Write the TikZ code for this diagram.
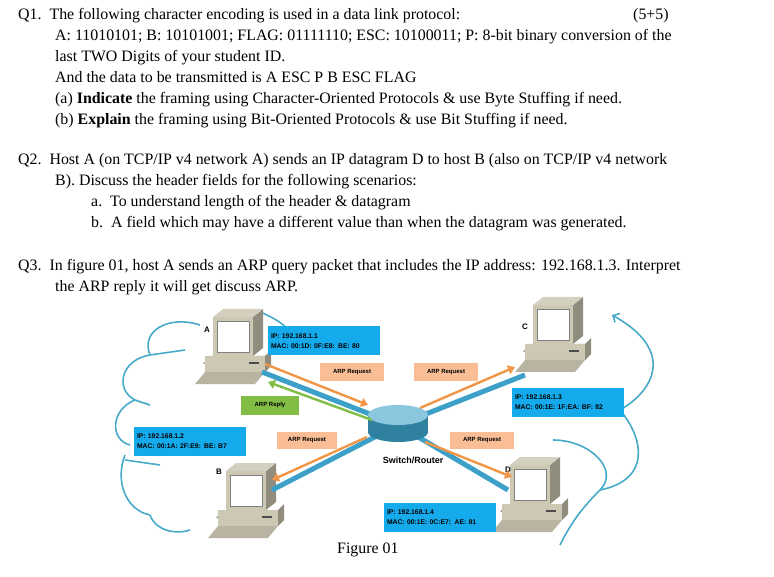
\documentclass[tikz,border=0pt]{standalone}
\usepackage{fontspec}
\setmainfont{Liberation Serif}
\newfontfamily\sansf{Liberation Sans}
\usetikzlibrary{arrows.meta,shapes.geometric}
\definecolor{cloudc}{RGB}{70,170,200}
\definecolor{linkc}{RGB}{60,160,200}
\definecolor{orc}{RGB}{240,150,70}
\definecolor{grc}{RGB}{130,190,70}
\definecolor{boxc}{RGB}{20,170,235}
\definecolor{lblc}{RGB}{250,190,150}
\definecolor{pcc}{RGB}{205,200,180}
\tikzset{
 txt/.style={anchor=base west,inner sep=0pt,font=\fontsize{15.9}{18}\selectfont},
 info/.style={fill=boxc,minimum width=112,minimum height=29,inner sep=3pt,text width=106,align=left,font=\sansf\bfseries\fontsize{6.8}{10}\selectfont},
 lbl/.style={fill=lblc,minimum width=64,minimum height=17,inner sep=1pt,font=\sansf\bfseries\fontsize{6}{7}\selectfont},
 cloud/.style={cloudc,line width=1.6},
 link/.style={linkc,line width=5},
 oar/.style={orc,line width=2.4,-{Triangle[length=7,width=9]}},
 gar/.style={grc,line width=2.4,-{Triangle[length=7,width=9]}},
 pics/pc/.style={code={
  \fill[pcc!80!black] (-32,22) -- (28,22) -- (34,14) -- (-26,14) -- cycle;
  \fill[pcc] (-30,14) rectangle (30,30);
  \fill[pcc!70!black] (30,14) -- (36,8) -- (36,24) -- (30,30) -- cycle;
  \fill[pcc!90!black] (-30,30) -- (30,30) -- (20,42) -- (-40,42) -- cycle;
  \fill[pcc] (-22,-25) rectangle (18,14);
  \fill[pcc!70!black] (18,14) -- (28,6) -- (28,-33) -- (18,-25) -- cycle;
  \fill[pcc!85!white] (-22,-25) -- (18,-25) -- (28,-33) -- (-12,-33) -- cycle;
  \fill[white,draw=gray] (-18,-21) rectangle (14,10);
  \fill[black!70] (14,20) rectangle (24,22);
 }}
}
\begin{document}
\begin{tikzpicture}[x=1pt,y=-1pt]
\useasboundingbox (0,0) rectangle (774,577);
\fill[white] (0,0) rectangle (774,577);
% text
\node[txt] (q1) at (18,20) {Q1.\ \ The following character encoding is used in a data link protocol:};
\node[txt] (q1m) at (633,20) {(5+5)};
\node[txt] (q1a) at (55,41) {A: 11010101; B: 10101001; FLAG: 01111110; ESC: 10100011; P: 8-bit binary conversion of the};
\node[txt] (q1b) at (55,62) {last TWO Digits of your student ID.};
\node[txt] (q1c) at (55,83) {And the data to be transmitted is A ESC P B ESC FLAG};
\node[txt] (q1d) at (55,104) {(a) \textbf{Indicate} the framing using Character-Oriented Protocols \& use Byte Stuffing if need.};
\node[txt] (q1e) at (55,125) {(b) \textbf{Explain} the framing using Bit-Oriented Protocols \& use Bit Stuffing if need.};
\node[txt] (q2) at (18,165) {Q2.\ \ Host A (on TCP/IP v4 network A) sends an IP datagram D to host B (also on TCP/IP v4 network};
\node[txt] (q2a) at (55,186) {B). Discuss the header fields for the following scenarios:};
\node[txt] (q2b) at (91,207) {a.\ \ To understand length of the header \& datagram};
\node[txt] (q2c) at (91,228) {b.\ \ A field which may have a different value than when the datagram was generated.};
\node[txt] (q3) at (18,271) {Q3.\ \ In figure 01, host A sends an ARP query packet that includes the IP address: 192.168.1.3. Interpret};
\node[txt] (q3a) at (55,292) {the ARP reply it will get discuss ARP.};
\node[txt] (cap) at (337,553) {Figure 01};
% clouds
\draw[cloud] (200,325) .. controls (170,315) and (140,330) .. (150,355);
\draw[cloud] (150,355) .. controls (120,360) and (115,390) .. (135,400);
\draw[cloud] (135,400) .. controls (110,410) and (110,440) .. (130,445);
\draw[cloud] (125,455) .. controls (115,480) and (125,510) .. (150,515);
\draw[cloud] (150,515) .. controls (155,530) and (175,535) .. (190,530);
\draw[cloud] (150,355) -- (185,350);
\draw[cloud] (135,400) -- (150,405);
\draw[cloud] (125,460) -- (160,465);
\draw[cloud] (260,312) .. controls (275,318) and (285,325) .. (290,332);
\draw[cloud,-{Straight Barb[length=5]}] (620,410) .. controls (655,390) and (675,350) .. (612,315);
\draw[cloud] (620,410) .. controls (645,440) and (650,480) .. (600,490);
\draw[cloud] (600,490) .. controls (620,470) and (590,440) .. (553,440);
\draw[cloud] (600,490) .. controls (580,510) and (570,525) .. (560,545);
% computers
\pic (pcA) at (235,342) {pc};
\pic (pcC) at (555,330) {pc};
\pic (pcB) at (248,496) {pc};
\pic (pcD) at (532,490) {pc};
\coordinate (A) at (262,372);
\coordinate (C) at (525,375);
\coordinate (B) at (272,490);
\coordinate (D) at (508,490);
\node[font=\sansf\bfseries\fontsize{8}{9}\selectfont] (la) at (207,330) {A};
\node[font=\sansf\bfseries\fontsize{8}{9}\selectfont] (lc) at (525,327) {C};
\node[font=\sansf\bfseries\fontsize{8}{9}\selectfont] (lb) at (219,472) {B};
\node[font=\sansf\bfseries\fontsize{8}{9}\selectfont] (ld) at (508,470) {D};
% router
\coordinate (R) at (398,425);
\draw[link] (A) -- (R);
\draw[link] (C) -- (R);
\draw[link] (B) -- (R);
\draw[link] (D) -- (R);
\fill[linkc!80!black] (368,415) rectangle (428,432);
\fill[linkc!80!black] (398,432) ellipse (30 and 10);
\fill[linkc!60!white] (398,415) ellipse (30 and 10) node (rt) {};
\node[font=\sansf\bfseries\fontsize{9}{10}\selectfont] (rl) at (413,460) {Switch/Router};
% arrows
\coordinate (a1) at (265,364); \coordinate (r1) at (368,405);
\draw[oar] (a1) -- (r1);
\coordinate (r2) at (372,420); \coordinate (a2) at (268,382);
\draw[gar] (r2) -- (a2);
\coordinate (r3) at (367,437); \coordinate (b3) at (272,480);
\draw[oar] (r3) -- (b3);
\coordinate (r4) at (420,408); \coordinate (c4) at (515,367);
\draw[oar] (r4) -- (c4);
\coordinate (r5) at (425,442); \coordinate (d5) at (512,477);
\draw[oar] (r5) -- (d5);
% boxes
\node[info] (iA) at (324,341) {IP: 192.168.1.1\\MAC: 00:1D: 0F:E8: BE: 80};
\node[info] (iC) at (568,402) {IP: 192.168.1.3\\MAC: 00:1E: 1F:EA: BF: 82};
\node[info] (iB) at (190,441) {IP: 192.168.1.2\\MAC: 00:1A: 2F:E9: BE: B7};
\node[info] (iD) at (440,517) {IP: 192.168.1.4\\MAC: 00:1E: 0C:E7: AE: 81};
\node[lbl] (l1) at (352,372) {ARP Request};
\node[lbl] (l2) at (446,372) {ARP Request};
\node[lbl,fill=grc,minimum width=58,minimum height=19] (l3) at (270,405) {ARP Reply};
\node[lbl,minimum width=60] (l4) at (307,440) {ARP Request};
\node[lbl] (l5) at (482,440) {ARP Request};
\end{tikzpicture}
\end{document}
